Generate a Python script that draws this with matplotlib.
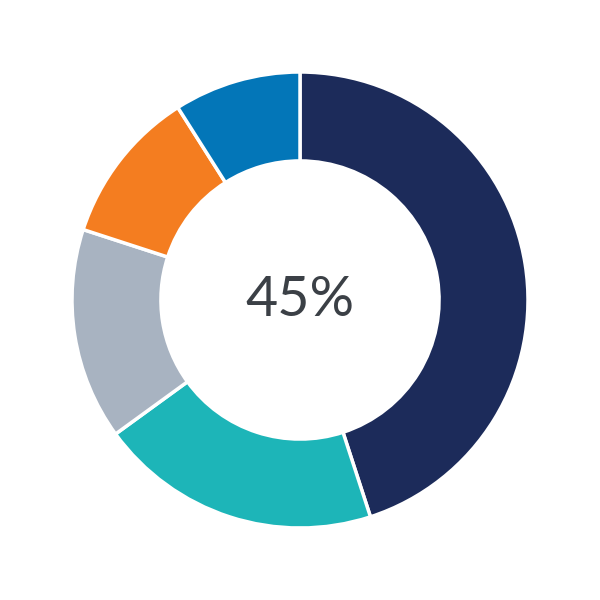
import matplotlib.pyplot as plt

# slice values, clockwise from top
labels = ['A', 'B', 'C', 'D', 'E']
values = [45, 20, 15, 11, 9]
colors = ['#1c2b5a', '#1db5b8', '#a8b3c1', '#f47d20', '#0376b8']
center_text = '45%'

fig = plt.figure(figsize=(6, 6), dpi=100)
ax = fig.add_axes([0, 0, 1, 1])
ax.pie(values, colors=colors, startangle=90, counterclock=False,
       radius=1.0,
       wedgeprops=dict(width=0.39, edgecolor='white', linewidth=2.5))
ax.text(0, 0, center_text, ha='center', va='center', fontsize=40,
        color='#3b4046', family='Lato')
lim = 300 / 228
ax.set_xlim(-lim, lim)
ax.set_ylim(-lim, lim)
ax.set_aspect('equal')
ax.axis('off')

fig.savefig('out.png', dpi=100, facecolor='white')
